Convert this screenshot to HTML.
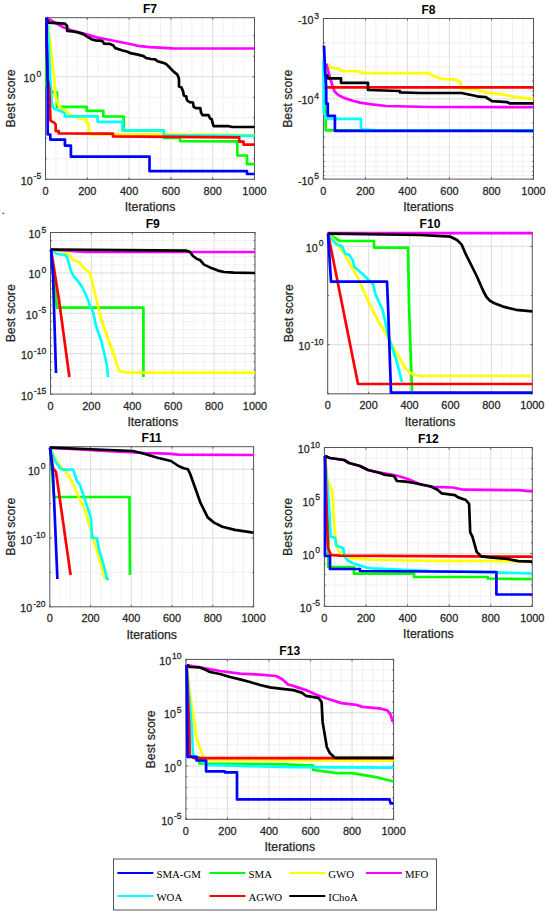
<!DOCTYPE html>
<html><head><meta charset="utf-8"><title>Convergence curves F7-F13</title>
<style>
html,body{margin:0;padding:0;background:#fff;}
body{width:550px;height:916px;overflow:hidden;}
svg{display:block;}
.tk{font-family:"Liberation Sans",sans-serif;font-size:10.4px;fill:#262626;stroke:#262626;stroke-width:0.25px;}
.sup{font-size:8.3px;}
.ti{font-family:"Liberation Sans",sans-serif;font-size:12.1px;font-weight:bold;fill:#000;}
.lb{font-family:"Liberation Sans",sans-serif;font-size:12.3px;fill:#262626;stroke:#262626;stroke-width:0.25px;}
.lg{font-family:"Liberation Serif",serif;font-size:11.4px;fill:#000;}
</style></head>
<body>
<svg width="550" height="916" viewBox="0 0 550 916">
<rect x="0" y="0" width="550" height="916" fill="#fff"/>
<line x1="55.95" y1="17.7" x2="55.95" y2="179.3" stroke="#ededed" stroke-width="0.8"/>
<line x1="66.4" y1="17.7" x2="66.4" y2="179.3" stroke="#ededed" stroke-width="0.8"/>
<line x1="76.85" y1="17.7" x2="76.85" y2="179.3" stroke="#ededed" stroke-width="0.8"/>
<line x1="87.3" y1="17.7" x2="87.3" y2="179.3" stroke="#d9d9d9" stroke-width="0.9"/>
<line x1="97.75" y1="17.7" x2="97.75" y2="179.3" stroke="#ededed" stroke-width="0.8"/>
<line x1="108.2" y1="17.7" x2="108.2" y2="179.3" stroke="#ededed" stroke-width="0.8"/>
<line x1="118.65" y1="17.7" x2="118.65" y2="179.3" stroke="#ededed" stroke-width="0.8"/>
<line x1="129.1" y1="17.7" x2="129.1" y2="179.3" stroke="#d9d9d9" stroke-width="0.9"/>
<line x1="139.55" y1="17.7" x2="139.55" y2="179.3" stroke="#ededed" stroke-width="0.8"/>
<line x1="150" y1="17.7" x2="150" y2="179.3" stroke="#ededed" stroke-width="0.8"/>
<line x1="160.45" y1="17.7" x2="160.45" y2="179.3" stroke="#ededed" stroke-width="0.8"/>
<line x1="170.9" y1="17.7" x2="170.9" y2="179.3" stroke="#d9d9d9" stroke-width="0.9"/>
<line x1="181.35" y1="17.7" x2="181.35" y2="179.3" stroke="#ededed" stroke-width="0.8"/>
<line x1="191.8" y1="17.7" x2="191.8" y2="179.3" stroke="#ededed" stroke-width="0.8"/>
<line x1="202.25" y1="17.7" x2="202.25" y2="179.3" stroke="#ededed" stroke-width="0.8"/>
<line x1="212.7" y1="17.7" x2="212.7" y2="179.3" stroke="#d9d9d9" stroke-width="0.9"/>
<line x1="223.15" y1="17.7" x2="223.15" y2="179.3" stroke="#ededed" stroke-width="0.8"/>
<line x1="233.6" y1="17.7" x2="233.6" y2="179.3" stroke="#ededed" stroke-width="0.8"/>
<line x1="244.05" y1="17.7" x2="244.05" y2="179.3" stroke="#ededed" stroke-width="0.8"/>
<line x1="45.5" y1="76.75" x2="254.5" y2="76.75" stroke="#d9d9d9" stroke-width="0.9"/>
<line x1="45.5" y1="158.79" x2="254.5" y2="158.79" stroke="#e2e2e2" stroke-width="0.8" stroke-dasharray="1.2 0.8"/>
<line x1="45.5" y1="138.28" x2="254.5" y2="138.28" stroke="#e2e2e2" stroke-width="0.8" stroke-dasharray="1.2 0.8"/>
<line x1="45.5" y1="117.77" x2="254.5" y2="117.77" stroke="#e2e2e2" stroke-width="0.8" stroke-dasharray="1.2 0.8"/>
<line x1="45.5" y1="97.26" x2="254.5" y2="97.26" stroke="#e2e2e2" stroke-width="0.8" stroke-dasharray="1.2 0.8"/>
<line x1="45.5" y1="56.24" x2="254.5" y2="56.24" stroke="#e2e2e2" stroke-width="0.8" stroke-dasharray="1.2 0.8"/>
<line x1="45.5" y1="35.73" x2="254.5" y2="35.73" stroke="#e2e2e2" stroke-width="0.8" stroke-dasharray="1.2 0.8"/>
<rect x="45.5" y="17.7" width="209" height="161.6" fill="none" stroke="#555555" stroke-width="1.0"/>
<line x1="45.5" y1="179.3" x2="45.5" y2="177.3" stroke="#555555" stroke-width="0.9"/>
<line x1="45.5" y1="17.7" x2="45.5" y2="19.7" stroke="#555555" stroke-width="0.9"/>
<line x1="87.3" y1="179.3" x2="87.3" y2="177.3" stroke="#555555" stroke-width="0.9"/>
<line x1="87.3" y1="17.7" x2="87.3" y2="19.7" stroke="#555555" stroke-width="0.9"/>
<line x1="129.1" y1="179.3" x2="129.1" y2="177.3" stroke="#555555" stroke-width="0.9"/>
<line x1="129.1" y1="17.7" x2="129.1" y2="19.7" stroke="#555555" stroke-width="0.9"/>
<line x1="170.9" y1="179.3" x2="170.9" y2="177.3" stroke="#555555" stroke-width="0.9"/>
<line x1="170.9" y1="17.7" x2="170.9" y2="19.7" stroke="#555555" stroke-width="0.9"/>
<line x1="212.7" y1="179.3" x2="212.7" y2="177.3" stroke="#555555" stroke-width="0.9"/>
<line x1="212.7" y1="17.7" x2="212.7" y2="19.7" stroke="#555555" stroke-width="0.9"/>
<line x1="254.5" y1="179.3" x2="254.5" y2="177.3" stroke="#555555" stroke-width="0.9"/>
<line x1="254.5" y1="17.7" x2="254.5" y2="19.7" stroke="#555555" stroke-width="0.9"/>
<text transform="translate(45.5 194.7) scale(1.05 1)" text-anchor="middle" class="tk">0</text>
<text transform="translate(87.3 194.7) scale(1.05 1)" text-anchor="middle" class="tk">200</text>
<text transform="translate(129.1 194.7) scale(1.05 1)" text-anchor="middle" class="tk">400</text>
<text transform="translate(170.9 194.7) scale(1.05 1)" text-anchor="middle" class="tk">600</text>
<text transform="translate(212.7 194.7) scale(1.05 1)" text-anchor="middle" class="tk">800</text>
<text transform="translate(254.5 194.7) scale(1.05 1)" text-anchor="middle" class="tk">1000</text>
<line x1="45.5" y1="179.3" x2="47.5" y2="179.3" stroke="#555555" stroke-width="0.9"/>
<line x1="252.5" y1="179.3" x2="254.5" y2="179.3" stroke="#555555" stroke-width="0.9"/>
<text transform="translate(41.2 184.8) scale(1.03 1)" text-anchor="end" class="tk">10<tspan dx="0.9" dy="-5.5" class="sup">-5</tspan></text>
<line x1="45.5" y1="76.75" x2="47.5" y2="76.75" stroke="#555555" stroke-width="0.9"/>
<line x1="252.5" y1="76.75" x2="254.5" y2="76.75" stroke="#555555" stroke-width="0.9"/>
<text transform="translate(41.2 82.25) scale(1.03 1)" text-anchor="end" class="tk">10<tspan dx="0.9" dy="-5.5" class="sup">0</tspan></text>
<line x1="45.5" y1="158.79" x2="46.8" y2="158.79" stroke="#555555" stroke-width="0.9"/>
<line x1="253.2" y1="158.79" x2="254.5" y2="158.79" stroke="#555555" stroke-width="0.9"/>
<line x1="45.5" y1="138.28" x2="46.8" y2="138.28" stroke="#555555" stroke-width="0.9"/>
<line x1="253.2" y1="138.28" x2="254.5" y2="138.28" stroke="#555555" stroke-width="0.9"/>
<line x1="45.5" y1="117.77" x2="46.8" y2="117.77" stroke="#555555" stroke-width="0.9"/>
<line x1="253.2" y1="117.77" x2="254.5" y2="117.77" stroke="#555555" stroke-width="0.9"/>
<line x1="45.5" y1="97.26" x2="46.8" y2="97.26" stroke="#555555" stroke-width="0.9"/>
<line x1="253.2" y1="97.26" x2="254.5" y2="97.26" stroke="#555555" stroke-width="0.9"/>
<line x1="45.5" y1="56.24" x2="46.8" y2="56.24" stroke="#555555" stroke-width="0.9"/>
<line x1="253.2" y1="56.24" x2="254.5" y2="56.24" stroke="#555555" stroke-width="0.9"/>
<line x1="45.5" y1="35.73" x2="46.8" y2="35.73" stroke="#555555" stroke-width="0.9"/>
<line x1="253.2" y1="35.73" x2="254.5" y2="35.73" stroke="#555555" stroke-width="0.9"/>
<polyline points="46.6,17.7 46.6,55 46.5,65 46.5,86 53,92.4 57,92.4 57,106.8 86.7,106.8 86.7,110.9 103.3,110.9 103.3,116.5 123.7,116.5 123.7,130.5 163.8,130.5 163.8,137.8 180.2,137.8 180.2,141.1 237.3,141.3 237.3,155.5 247,155.5 247,164.2 254.5,164.2" fill="none" stroke="#00ff00" stroke-width="2.7" stroke-linejoin="round" stroke-linecap="butt"/>
<polyline points="47,17.7 49.9,40 54.3,80 55.1,93.1 56.4,99.6 59,106.2 61.6,108.8 66.2,110.8 68.2,113.4 74.7,116.9 80.2,118.5 85.6,119.6 88.9,125.5 88.9,133.6 90,134.4 175,134.4 254.5,135.2" fill="none" stroke="#ffff00" stroke-width="2.7" stroke-linejoin="round" stroke-linecap="butt"/>
<polyline points="46.4,17.7 52.9,21.5 63.8,27.5 74.7,31.4 85.6,34.1 96.5,37.4 110,40 130,44 140,46.2 150,47.2 172.7,48.4 254.5,48.5" fill="none" stroke="#ff00ff" stroke-width="2.7" stroke-linejoin="round" stroke-linecap="butt"/>
<polyline points="47,17.7 48.4,40 50.3,80 51.8,104.2 54.1,108.8 57,109.8 61.6,111.4 64.9,113.4 64.9,116.4 97.6,116.4 97.6,121.8 122.5,121.8 122.5,130.5 163.8,130.5 163.8,135.4 254.5,135.8" fill="none" stroke="#00ffff" stroke-width="2.7" stroke-linejoin="round" stroke-linecap="butt"/>
<polyline points="46.6,17.7 46.6,40 47.7,80 49.2,87.9 50.5,120.6 54.1,122.6 55.7,124.5 55.7,131.1 58.7,131.1 58.7,133.5 113,133.6 113,136.4 239.2,137.4 239.2,141.6 243.5,141.6 243.5,144.6 254.5,144.6" fill="none" stroke="#ff0000" stroke-width="2.7" stroke-linejoin="round" stroke-linecap="butt"/>
<polyline points="46.4,17.7 48.5,22.6 64.9,23.7 67.1,25.9 67.1,30.8 72.5,31.4 78,32.4 83.4,34.1 86.7,36.3 92.2,39.5 96.5,40.6 100,40.6 102.9,41.5 104,43.7 110,43.9 113.1,45.2 115.3,48.1 121.8,50.3 127.6,51.7 130.5,53.2 137.8,54.6 143.6,56.1 146,58 150.9,59 155.3,59.4 157.5,61.2 162.5,62.6 166.2,64.1 168.4,66.3 171.3,69.2 174.2,72.1 177.1,74.3 178.5,77.2 179,80 179,86.5 181.5,87.4 183.1,91.5 183.9,95.5 186.4,96.5 186.4,98 187.2,100.5 189.6,102.1 192.9,102.5 193.7,107 196.2,108.2 200.3,108.2 201.1,112.7 202.7,115.2 208.5,115.2 210.1,118.5 211.7,119.3 213.4,125.8 214.2,126.2 228.9,126.2 232.2,127 254.5,127" fill="none" stroke="#000000" stroke-width="2.7" stroke-linejoin="round" stroke-linecap="butt"/>
<polyline points="46.6,17.7 46.6,40 47.7,80 47.7,134.5 50.3,134.5 50.3,139.6 64.9,139.6 64.9,145.6 70.9,145.6 70.9,156.7 149.5,156.7 149.5,171.2 247,171.2 247,174 254.5,174" fill="none" stroke="#0000ff" stroke-width="2.7" stroke-linejoin="round" stroke-linecap="butt"/>
<text x="150" y="12.9" text-anchor="middle" class="ti">F7</text>
<text x="150" y="211.2" text-anchor="middle" class="lb">Iterations</text>
<text transform="translate(15 98.5) rotate(-90)" text-anchor="middle" class="lb">Best score</text>
<line x1="333.9" y1="18.5" x2="333.9" y2="179.1" stroke="#ededed" stroke-width="0.8"/>
<line x1="344.41" y1="18.5" x2="344.41" y2="179.1" stroke="#ededed" stroke-width="0.8"/>
<line x1="354.91" y1="18.5" x2="354.91" y2="179.1" stroke="#ededed" stroke-width="0.8"/>
<line x1="365.42" y1="18.5" x2="365.42" y2="179.1" stroke="#d9d9d9" stroke-width="0.9"/>
<line x1="375.92" y1="18.5" x2="375.92" y2="179.1" stroke="#ededed" stroke-width="0.8"/>
<line x1="386.43" y1="18.5" x2="386.43" y2="179.1" stroke="#ededed" stroke-width="0.8"/>
<line x1="396.94" y1="18.5" x2="396.94" y2="179.1" stroke="#ededed" stroke-width="0.8"/>
<line x1="407.44" y1="18.5" x2="407.44" y2="179.1" stroke="#d9d9d9" stroke-width="0.9"/>
<line x1="417.94" y1="18.5" x2="417.94" y2="179.1" stroke="#ededed" stroke-width="0.8"/>
<line x1="428.45" y1="18.5" x2="428.45" y2="179.1" stroke="#ededed" stroke-width="0.8"/>
<line x1="438.95" y1="18.5" x2="438.95" y2="179.1" stroke="#ededed" stroke-width="0.8"/>
<line x1="449.46" y1="18.5" x2="449.46" y2="179.1" stroke="#d9d9d9" stroke-width="0.9"/>
<line x1="459.96" y1="18.5" x2="459.96" y2="179.1" stroke="#ededed" stroke-width="0.8"/>
<line x1="470.47" y1="18.5" x2="470.47" y2="179.1" stroke="#ededed" stroke-width="0.8"/>
<line x1="480.98" y1="18.5" x2="480.98" y2="179.1" stroke="#ededed" stroke-width="0.8"/>
<line x1="491.48" y1="18.5" x2="491.48" y2="179.1" stroke="#d9d9d9" stroke-width="0.9"/>
<line x1="501.99" y1="18.5" x2="501.99" y2="179.1" stroke="#ededed" stroke-width="0.8"/>
<line x1="512.49" y1="18.5" x2="512.49" y2="179.1" stroke="#ededed" stroke-width="0.8"/>
<line x1="523" y1="18.5" x2="523" y2="179.1" stroke="#ededed" stroke-width="0.8"/>
<line x1="323.4" y1="98.8" x2="533.5" y2="98.8" stroke="#d9d9d9" stroke-width="0.9"/>
<line x1="323.4" y1="42.67" x2="533.5" y2="42.67" stroke="#e2e2e2" stroke-width="0.8" stroke-dasharray="1.2 0.8"/>
<line x1="323.4" y1="56.81" x2="533.5" y2="56.81" stroke="#e2e2e2" stroke-width="0.8" stroke-dasharray="1.2 0.8"/>
<line x1="323.4" y1="66.85" x2="533.5" y2="66.85" stroke="#e2e2e2" stroke-width="0.8" stroke-dasharray="1.2 0.8"/>
<line x1="323.4" y1="74.63" x2="533.5" y2="74.63" stroke="#e2e2e2" stroke-width="0.8" stroke-dasharray="1.2 0.8"/>
<line x1="323.4" y1="80.99" x2="533.5" y2="80.99" stroke="#e2e2e2" stroke-width="0.8" stroke-dasharray="1.2 0.8"/>
<line x1="323.4" y1="86.36" x2="533.5" y2="86.36" stroke="#e2e2e2" stroke-width="0.8" stroke-dasharray="1.2 0.8"/>
<line x1="323.4" y1="91.02" x2="533.5" y2="91.02" stroke="#e2e2e2" stroke-width="0.8" stroke-dasharray="1.2 0.8"/>
<line x1="323.4" y1="95.13" x2="533.5" y2="95.13" stroke="#e2e2e2" stroke-width="0.8" stroke-dasharray="1.2 0.8"/>
<line x1="323.4" y1="122.97" x2="533.5" y2="122.97" stroke="#e2e2e2" stroke-width="0.8" stroke-dasharray="1.2 0.8"/>
<line x1="323.4" y1="137.11" x2="533.5" y2="137.11" stroke="#e2e2e2" stroke-width="0.8" stroke-dasharray="1.2 0.8"/>
<line x1="323.4" y1="147.15" x2="533.5" y2="147.15" stroke="#e2e2e2" stroke-width="0.8" stroke-dasharray="1.2 0.8"/>
<line x1="323.4" y1="154.93" x2="533.5" y2="154.93" stroke="#e2e2e2" stroke-width="0.8" stroke-dasharray="1.2 0.8"/>
<line x1="323.4" y1="161.29" x2="533.5" y2="161.29" stroke="#e2e2e2" stroke-width="0.8" stroke-dasharray="1.2 0.8"/>
<line x1="323.4" y1="166.66" x2="533.5" y2="166.66" stroke="#e2e2e2" stroke-width="0.8" stroke-dasharray="1.2 0.8"/>
<line x1="323.4" y1="171.32" x2="533.5" y2="171.32" stroke="#e2e2e2" stroke-width="0.8" stroke-dasharray="1.2 0.8"/>
<line x1="323.4" y1="175.43" x2="533.5" y2="175.43" stroke="#e2e2e2" stroke-width="0.8" stroke-dasharray="1.2 0.8"/>
<rect x="323.4" y="18.5" width="210.1" height="160.6" fill="none" stroke="#555555" stroke-width="1.0"/>
<line x1="323.4" y1="179.1" x2="323.4" y2="177.1" stroke="#555555" stroke-width="0.9"/>
<line x1="323.4" y1="18.5" x2="323.4" y2="20.5" stroke="#555555" stroke-width="0.9"/>
<line x1="365.42" y1="179.1" x2="365.42" y2="177.1" stroke="#555555" stroke-width="0.9"/>
<line x1="365.42" y1="18.5" x2="365.42" y2="20.5" stroke="#555555" stroke-width="0.9"/>
<line x1="407.44" y1="179.1" x2="407.44" y2="177.1" stroke="#555555" stroke-width="0.9"/>
<line x1="407.44" y1="18.5" x2="407.44" y2="20.5" stroke="#555555" stroke-width="0.9"/>
<line x1="449.46" y1="179.1" x2="449.46" y2="177.1" stroke="#555555" stroke-width="0.9"/>
<line x1="449.46" y1="18.5" x2="449.46" y2="20.5" stroke="#555555" stroke-width="0.9"/>
<line x1="491.48" y1="179.1" x2="491.48" y2="177.1" stroke="#555555" stroke-width="0.9"/>
<line x1="491.48" y1="18.5" x2="491.48" y2="20.5" stroke="#555555" stroke-width="0.9"/>
<line x1="533.5" y1="179.1" x2="533.5" y2="177.1" stroke="#555555" stroke-width="0.9"/>
<line x1="533.5" y1="18.5" x2="533.5" y2="20.5" stroke="#555555" stroke-width="0.9"/>
<text transform="translate(323.4 194.5) scale(1.05 1)" text-anchor="middle" class="tk">0</text>
<text transform="translate(365.42 194.5) scale(1.05 1)" text-anchor="middle" class="tk">200</text>
<text transform="translate(407.44 194.5) scale(1.05 1)" text-anchor="middle" class="tk">400</text>
<text transform="translate(449.46 194.5) scale(1.05 1)" text-anchor="middle" class="tk">600</text>
<text transform="translate(491.48 194.5) scale(1.05 1)" text-anchor="middle" class="tk">800</text>
<text transform="translate(533.5 194.5) scale(1.05 1)" text-anchor="middle" class="tk">1000</text>
<line x1="323.4" y1="18.5" x2="325.4" y2="18.5" stroke="#555555" stroke-width="0.9"/>
<line x1="531.5" y1="18.5" x2="533.5" y2="18.5" stroke="#555555" stroke-width="0.9"/>
<text transform="translate(319.1 24) scale(1.03 1)" text-anchor="end" class="tk">-10<tspan dx="0.9" dy="-5.5" class="sup">3</tspan></text>
<line x1="323.4" y1="98.8" x2="325.4" y2="98.8" stroke="#555555" stroke-width="0.9"/>
<line x1="531.5" y1="98.8" x2="533.5" y2="98.8" stroke="#555555" stroke-width="0.9"/>
<text transform="translate(319.1 104.3) scale(1.03 1)" text-anchor="end" class="tk">-10<tspan dx="0.9" dy="-5.5" class="sup">4</tspan></text>
<line x1="323.4" y1="179.1" x2="325.4" y2="179.1" stroke="#555555" stroke-width="0.9"/>
<line x1="531.5" y1="179.1" x2="533.5" y2="179.1" stroke="#555555" stroke-width="0.9"/>
<text transform="translate(319.1 184.6) scale(1.03 1)" text-anchor="end" class="tk">-10<tspan dx="0.9" dy="-5.5" class="sup">5</tspan></text>
<line x1="323.4" y1="42.67" x2="324.7" y2="42.67" stroke="#555555" stroke-width="0.9"/>
<line x1="532.2" y1="42.67" x2="533.5" y2="42.67" stroke="#555555" stroke-width="0.9"/>
<line x1="323.4" y1="56.81" x2="324.7" y2="56.81" stroke="#555555" stroke-width="0.9"/>
<line x1="532.2" y1="56.81" x2="533.5" y2="56.81" stroke="#555555" stroke-width="0.9"/>
<line x1="323.4" y1="66.85" x2="324.7" y2="66.85" stroke="#555555" stroke-width="0.9"/>
<line x1="532.2" y1="66.85" x2="533.5" y2="66.85" stroke="#555555" stroke-width="0.9"/>
<line x1="323.4" y1="74.63" x2="324.7" y2="74.63" stroke="#555555" stroke-width="0.9"/>
<line x1="532.2" y1="74.63" x2="533.5" y2="74.63" stroke="#555555" stroke-width="0.9"/>
<line x1="323.4" y1="80.99" x2="324.7" y2="80.99" stroke="#555555" stroke-width="0.9"/>
<line x1="532.2" y1="80.99" x2="533.5" y2="80.99" stroke="#555555" stroke-width="0.9"/>
<line x1="323.4" y1="86.36" x2="324.7" y2="86.36" stroke="#555555" stroke-width="0.9"/>
<line x1="532.2" y1="86.36" x2="533.5" y2="86.36" stroke="#555555" stroke-width="0.9"/>
<line x1="323.4" y1="91.02" x2="324.7" y2="91.02" stroke="#555555" stroke-width="0.9"/>
<line x1="532.2" y1="91.02" x2="533.5" y2="91.02" stroke="#555555" stroke-width="0.9"/>
<line x1="323.4" y1="95.13" x2="324.7" y2="95.13" stroke="#555555" stroke-width="0.9"/>
<line x1="532.2" y1="95.13" x2="533.5" y2="95.13" stroke="#555555" stroke-width="0.9"/>
<line x1="323.4" y1="122.97" x2="324.7" y2="122.97" stroke="#555555" stroke-width="0.9"/>
<line x1="532.2" y1="122.97" x2="533.5" y2="122.97" stroke="#555555" stroke-width="0.9"/>
<line x1="323.4" y1="137.11" x2="324.7" y2="137.11" stroke="#555555" stroke-width="0.9"/>
<line x1="532.2" y1="137.11" x2="533.5" y2="137.11" stroke="#555555" stroke-width="0.9"/>
<line x1="323.4" y1="147.15" x2="324.7" y2="147.15" stroke="#555555" stroke-width="0.9"/>
<line x1="532.2" y1="147.15" x2="533.5" y2="147.15" stroke="#555555" stroke-width="0.9"/>
<line x1="323.4" y1="154.93" x2="324.7" y2="154.93" stroke="#555555" stroke-width="0.9"/>
<line x1="532.2" y1="154.93" x2="533.5" y2="154.93" stroke="#555555" stroke-width="0.9"/>
<line x1="323.4" y1="161.29" x2="324.7" y2="161.29" stroke="#555555" stroke-width="0.9"/>
<line x1="532.2" y1="161.29" x2="533.5" y2="161.29" stroke="#555555" stroke-width="0.9"/>
<line x1="323.4" y1="166.66" x2="324.7" y2="166.66" stroke="#555555" stroke-width="0.9"/>
<line x1="532.2" y1="166.66" x2="533.5" y2="166.66" stroke="#555555" stroke-width="0.9"/>
<line x1="323.4" y1="171.32" x2="324.7" y2="171.32" stroke="#555555" stroke-width="0.9"/>
<line x1="532.2" y1="171.32" x2="533.5" y2="171.32" stroke="#555555" stroke-width="0.9"/>
<line x1="323.4" y1="175.43" x2="324.7" y2="175.43" stroke="#555555" stroke-width="0.9"/>
<line x1="532.2" y1="175.43" x2="533.5" y2="175.43" stroke="#555555" stroke-width="0.9"/>
<polyline points="324.5,100 325.7,112.3 325.7,130.3 334.4,130.3 533.5,130.8" fill="none" stroke="#00ff00" stroke-width="2.7" stroke-linejoin="round" stroke-linecap="butt"/>
<polyline points="326.7,64.2 328.9,64.8 330,67.5 338.8,68.6 341,70.8 358,71.3 362,73 428.7,73.2 433,76 441.8,78.8 456,79.7 460.4,82.5 461.5,88.4 476.7,89.7 485.5,92.4 503,94.5 516,97.2 533.5,98.9" fill="none" stroke="#ffff00" stroke-width="2.7" stroke-linejoin="round" stroke-linecap="butt"/>
<polyline points="326.2,63.7 328.7,73.2 330.9,80.5 332.4,85.5 334.5,91.4 338.2,95 344,97.9 352.7,100.8 360,102.6 372,104.4 386,106 430,107 533.5,107.2" fill="none" stroke="#ff00ff" stroke-width="2.7" stroke-linejoin="round" stroke-linecap="butt"/>
<polyline points="323.5,59.9 323.8,112.3 326.7,118.9 361,118.9 361,129.4 378,130.4 533.5,130.8" fill="none" stroke="#00ffff" stroke-width="2.7" stroke-linejoin="round" stroke-linecap="butt"/>
<polyline points="324.6,87.4 533.5,87.4" fill="none" stroke="#ff0000" stroke-width="2.7" stroke-linejoin="round" stroke-linecap="butt"/>
<polyline points="326.7,74.1 327.8,78.4 341,78.4 341,82.8 368,82.8 368,90 400,91 400,92.4 420,93 461.5,93 472.4,95.2 479,96.7 485.5,97 492,101.1 507.3,102.2 509.5,103.3 533.5,103.3" fill="none" stroke="#000000" stroke-width="2.7" stroke-linejoin="round" stroke-linecap="butt"/>
<polyline points="324,45.7 325.1,70.8 326.2,87.2 326.2,103.6 327.8,103.6 327.8,115.8 334.9,115.8 334.9,130.8 533.5,130.8" fill="none" stroke="#0000ff" stroke-width="2.7" stroke-linejoin="round" stroke-linecap="butt"/>
<text x="428.45" y="13.7" text-anchor="middle" class="ti">F8</text>
<text x="428.45" y="211" text-anchor="middle" class="lb">Iterations</text>
<text transform="translate(291.8 98.8) rotate(-90)" text-anchor="middle" class="lb">Best score</text>
<line x1="60.73" y1="232.5" x2="60.73" y2="394.1" stroke="#ededed" stroke-width="0.8"/>
<line x1="70.95" y1="232.5" x2="70.95" y2="394.1" stroke="#ededed" stroke-width="0.8"/>
<line x1="81.17" y1="232.5" x2="81.17" y2="394.1" stroke="#ededed" stroke-width="0.8"/>
<line x1="91.4" y1="232.5" x2="91.4" y2="394.1" stroke="#d9d9d9" stroke-width="0.9"/>
<line x1="101.62" y1="232.5" x2="101.62" y2="394.1" stroke="#ededed" stroke-width="0.8"/>
<line x1="111.85" y1="232.5" x2="111.85" y2="394.1" stroke="#ededed" stroke-width="0.8"/>
<line x1="122.08" y1="232.5" x2="122.08" y2="394.1" stroke="#ededed" stroke-width="0.8"/>
<line x1="132.3" y1="232.5" x2="132.3" y2="394.1" stroke="#d9d9d9" stroke-width="0.9"/>
<line x1="142.53" y1="232.5" x2="142.53" y2="394.1" stroke="#ededed" stroke-width="0.8"/>
<line x1="152.75" y1="232.5" x2="152.75" y2="394.1" stroke="#ededed" stroke-width="0.8"/>
<line x1="162.97" y1="232.5" x2="162.97" y2="394.1" stroke="#ededed" stroke-width="0.8"/>
<line x1="173.2" y1="232.5" x2="173.2" y2="394.1" stroke="#d9d9d9" stroke-width="0.9"/>
<line x1="183.43" y1="232.5" x2="183.43" y2="394.1" stroke="#ededed" stroke-width="0.8"/>
<line x1="193.65" y1="232.5" x2="193.65" y2="394.1" stroke="#ededed" stroke-width="0.8"/>
<line x1="203.88" y1="232.5" x2="203.88" y2="394.1" stroke="#ededed" stroke-width="0.8"/>
<line x1="214.1" y1="232.5" x2="214.1" y2="394.1" stroke="#d9d9d9" stroke-width="0.9"/>
<line x1="224.32" y1="232.5" x2="224.32" y2="394.1" stroke="#ededed" stroke-width="0.8"/>
<line x1="234.55" y1="232.5" x2="234.55" y2="394.1" stroke="#ededed" stroke-width="0.8"/>
<line x1="244.78" y1="232.5" x2="244.78" y2="394.1" stroke="#ededed" stroke-width="0.8"/>
<line x1="50.5" y1="353.7" x2="255" y2="353.7" stroke="#d9d9d9" stroke-width="0.9"/>
<line x1="50.5" y1="313.3" x2="255" y2="313.3" stroke="#d9d9d9" stroke-width="0.9"/>
<line x1="50.5" y1="272.9" x2="255" y2="272.9" stroke="#d9d9d9" stroke-width="0.9"/>
<line x1="50.5" y1="386.02" x2="255" y2="386.02" stroke="#e2e2e2" stroke-width="0.8" stroke-dasharray="1.2 0.8"/>
<line x1="50.5" y1="377.94" x2="255" y2="377.94" stroke="#e2e2e2" stroke-width="0.8" stroke-dasharray="1.2 0.8"/>
<line x1="50.5" y1="369.86" x2="255" y2="369.86" stroke="#e2e2e2" stroke-width="0.8" stroke-dasharray="1.2 0.8"/>
<line x1="50.5" y1="361.78" x2="255" y2="361.78" stroke="#e2e2e2" stroke-width="0.8" stroke-dasharray="1.2 0.8"/>
<line x1="50.5" y1="345.62" x2="255" y2="345.62" stroke="#e2e2e2" stroke-width="0.8" stroke-dasharray="1.2 0.8"/>
<line x1="50.5" y1="337.54" x2="255" y2="337.54" stroke="#e2e2e2" stroke-width="0.8" stroke-dasharray="1.2 0.8"/>
<line x1="50.5" y1="329.46" x2="255" y2="329.46" stroke="#e2e2e2" stroke-width="0.8" stroke-dasharray="1.2 0.8"/>
<line x1="50.5" y1="321.38" x2="255" y2="321.38" stroke="#e2e2e2" stroke-width="0.8" stroke-dasharray="1.2 0.8"/>
<line x1="50.5" y1="305.22" x2="255" y2="305.22" stroke="#e2e2e2" stroke-width="0.8" stroke-dasharray="1.2 0.8"/>
<line x1="50.5" y1="297.14" x2="255" y2="297.14" stroke="#e2e2e2" stroke-width="0.8" stroke-dasharray="1.2 0.8"/>
<line x1="50.5" y1="289.06" x2="255" y2="289.06" stroke="#e2e2e2" stroke-width="0.8" stroke-dasharray="1.2 0.8"/>
<line x1="50.5" y1="280.98" x2="255" y2="280.98" stroke="#e2e2e2" stroke-width="0.8" stroke-dasharray="1.2 0.8"/>
<line x1="50.5" y1="264.82" x2="255" y2="264.82" stroke="#e2e2e2" stroke-width="0.8" stroke-dasharray="1.2 0.8"/>
<line x1="50.5" y1="256.74" x2="255" y2="256.74" stroke="#e2e2e2" stroke-width="0.8" stroke-dasharray="1.2 0.8"/>
<line x1="50.5" y1="248.66" x2="255" y2="248.66" stroke="#e2e2e2" stroke-width="0.8" stroke-dasharray="1.2 0.8"/>
<line x1="50.5" y1="240.58" x2="255" y2="240.58" stroke="#e2e2e2" stroke-width="0.8" stroke-dasharray="1.2 0.8"/>
<rect x="50.5" y="232.5" width="204.5" height="161.6" fill="none" stroke="#555555" stroke-width="1.0"/>
<line x1="50.5" y1="394.1" x2="50.5" y2="392.1" stroke="#555555" stroke-width="0.9"/>
<line x1="50.5" y1="232.5" x2="50.5" y2="234.5" stroke="#555555" stroke-width="0.9"/>
<line x1="91.4" y1="394.1" x2="91.4" y2="392.1" stroke="#555555" stroke-width="0.9"/>
<line x1="91.4" y1="232.5" x2="91.4" y2="234.5" stroke="#555555" stroke-width="0.9"/>
<line x1="132.3" y1="394.1" x2="132.3" y2="392.1" stroke="#555555" stroke-width="0.9"/>
<line x1="132.3" y1="232.5" x2="132.3" y2="234.5" stroke="#555555" stroke-width="0.9"/>
<line x1="173.2" y1="394.1" x2="173.2" y2="392.1" stroke="#555555" stroke-width="0.9"/>
<line x1="173.2" y1="232.5" x2="173.2" y2="234.5" stroke="#555555" stroke-width="0.9"/>
<line x1="214.1" y1="394.1" x2="214.1" y2="392.1" stroke="#555555" stroke-width="0.9"/>
<line x1="214.1" y1="232.5" x2="214.1" y2="234.5" stroke="#555555" stroke-width="0.9"/>
<line x1="255" y1="394.1" x2="255" y2="392.1" stroke="#555555" stroke-width="0.9"/>
<line x1="255" y1="232.5" x2="255" y2="234.5" stroke="#555555" stroke-width="0.9"/>
<text transform="translate(50.5 409.5) scale(1.05 1)" text-anchor="middle" class="tk">0</text>
<text transform="translate(91.4 409.5) scale(1.05 1)" text-anchor="middle" class="tk">200</text>
<text transform="translate(132.3 409.5) scale(1.05 1)" text-anchor="middle" class="tk">400</text>
<text transform="translate(173.2 409.5) scale(1.05 1)" text-anchor="middle" class="tk">600</text>
<text transform="translate(214.1 409.5) scale(1.05 1)" text-anchor="middle" class="tk">800</text>
<text transform="translate(255 409.5) scale(1.05 1)" text-anchor="middle" class="tk">1000</text>
<line x1="50.5" y1="394.1" x2="52.5" y2="394.1" stroke="#555555" stroke-width="0.9"/>
<line x1="253" y1="394.1" x2="255" y2="394.1" stroke="#555555" stroke-width="0.9"/>
<text transform="translate(46.2 399.6) scale(1.03 1)" text-anchor="end" class="tk">10<tspan dx="0.9" dy="-5.5" class="sup">-15</tspan></text>
<line x1="50.5" y1="353.7" x2="52.5" y2="353.7" stroke="#555555" stroke-width="0.9"/>
<line x1="253" y1="353.7" x2="255" y2="353.7" stroke="#555555" stroke-width="0.9"/>
<text transform="translate(46.2 359.2) scale(1.03 1)" text-anchor="end" class="tk">10<tspan dx="0.9" dy="-5.5" class="sup">-10</tspan></text>
<line x1="50.5" y1="313.3" x2="52.5" y2="313.3" stroke="#555555" stroke-width="0.9"/>
<line x1="253" y1="313.3" x2="255" y2="313.3" stroke="#555555" stroke-width="0.9"/>
<text transform="translate(46.2 318.8) scale(1.03 1)" text-anchor="end" class="tk">10<tspan dx="0.9" dy="-5.5" class="sup">-5</tspan></text>
<line x1="50.5" y1="272.9" x2="52.5" y2="272.9" stroke="#555555" stroke-width="0.9"/>
<line x1="253" y1="272.9" x2="255" y2="272.9" stroke="#555555" stroke-width="0.9"/>
<text transform="translate(46.2 278.4) scale(1.03 1)" text-anchor="end" class="tk">10<tspan dx="0.9" dy="-5.5" class="sup">0</tspan></text>
<line x1="50.5" y1="232.5" x2="52.5" y2="232.5" stroke="#555555" stroke-width="0.9"/>
<line x1="253" y1="232.5" x2="255" y2="232.5" stroke="#555555" stroke-width="0.9"/>
<text transform="translate(46.2 238) scale(1.03 1)" text-anchor="end" class="tk">10<tspan dx="0.9" dy="-5.5" class="sup">5</tspan></text>
<line x1="50.5" y1="386.02" x2="51.8" y2="386.02" stroke="#555555" stroke-width="0.9"/>
<line x1="253.7" y1="386.02" x2="255" y2="386.02" stroke="#555555" stroke-width="0.9"/>
<line x1="50.5" y1="377.94" x2="51.8" y2="377.94" stroke="#555555" stroke-width="0.9"/>
<line x1="253.7" y1="377.94" x2="255" y2="377.94" stroke="#555555" stroke-width="0.9"/>
<line x1="50.5" y1="369.86" x2="51.8" y2="369.86" stroke="#555555" stroke-width="0.9"/>
<line x1="253.7" y1="369.86" x2="255" y2="369.86" stroke="#555555" stroke-width="0.9"/>
<line x1="50.5" y1="361.78" x2="51.8" y2="361.78" stroke="#555555" stroke-width="0.9"/>
<line x1="253.7" y1="361.78" x2="255" y2="361.78" stroke="#555555" stroke-width="0.9"/>
<line x1="50.5" y1="345.62" x2="51.8" y2="345.62" stroke="#555555" stroke-width="0.9"/>
<line x1="253.7" y1="345.62" x2="255" y2="345.62" stroke="#555555" stroke-width="0.9"/>
<line x1="50.5" y1="337.54" x2="51.8" y2="337.54" stroke="#555555" stroke-width="0.9"/>
<line x1="253.7" y1="337.54" x2="255" y2="337.54" stroke="#555555" stroke-width="0.9"/>
<line x1="50.5" y1="329.46" x2="51.8" y2="329.46" stroke="#555555" stroke-width="0.9"/>
<line x1="253.7" y1="329.46" x2="255" y2="329.46" stroke="#555555" stroke-width="0.9"/>
<line x1="50.5" y1="321.38" x2="51.8" y2="321.38" stroke="#555555" stroke-width="0.9"/>
<line x1="253.7" y1="321.38" x2="255" y2="321.38" stroke="#555555" stroke-width="0.9"/>
<line x1="50.5" y1="305.22" x2="51.8" y2="305.22" stroke="#555555" stroke-width="0.9"/>
<line x1="253.7" y1="305.22" x2="255" y2="305.22" stroke="#555555" stroke-width="0.9"/>
<line x1="50.5" y1="297.14" x2="51.8" y2="297.14" stroke="#555555" stroke-width="0.9"/>
<line x1="253.7" y1="297.14" x2="255" y2="297.14" stroke="#555555" stroke-width="0.9"/>
<line x1="50.5" y1="289.06" x2="51.8" y2="289.06" stroke="#555555" stroke-width="0.9"/>
<line x1="253.7" y1="289.06" x2="255" y2="289.06" stroke="#555555" stroke-width="0.9"/>
<line x1="50.5" y1="280.98" x2="51.8" y2="280.98" stroke="#555555" stroke-width="0.9"/>
<line x1="253.7" y1="280.98" x2="255" y2="280.98" stroke="#555555" stroke-width="0.9"/>
<line x1="50.5" y1="264.82" x2="51.8" y2="264.82" stroke="#555555" stroke-width="0.9"/>
<line x1="253.7" y1="264.82" x2="255" y2="264.82" stroke="#555555" stroke-width="0.9"/>
<line x1="50.5" y1="256.74" x2="51.8" y2="256.74" stroke="#555555" stroke-width="0.9"/>
<line x1="253.7" y1="256.74" x2="255" y2="256.74" stroke="#555555" stroke-width="0.9"/>
<line x1="50.5" y1="248.66" x2="51.8" y2="248.66" stroke="#555555" stroke-width="0.9"/>
<line x1="253.7" y1="248.66" x2="255" y2="248.66" stroke="#555555" stroke-width="0.9"/>
<line x1="50.5" y1="240.58" x2="51.8" y2="240.58" stroke="#555555" stroke-width="0.9"/>
<line x1="253.7" y1="240.58" x2="255" y2="240.58" stroke="#555555" stroke-width="0.9"/>
<polyline points="51,249.5 57,307.6 143.4,307.6 143.4,377" fill="none" stroke="#00ff00" stroke-width="2.7" stroke-linejoin="round" stroke-linecap="butt"/>
<polyline points="51,249.5 64,252 69,255 73,260 79,262 84,268 90,273 93,285 97,302 101,318 107,336 113,352 119,371 127,372.6 255,372.6" fill="none" stroke="#ffff00" stroke-width="2.7" stroke-linejoin="round" stroke-linecap="butt"/>
<polyline points="51,249.5 85,252 255,252" fill="none" stroke="#ff00ff" stroke-width="2.7" stroke-linejoin="round" stroke-linecap="butt"/>
<polyline points="51,249.5 57,254 65,255 67,257 71,271 74,277 78,281 82,287 86,295 88,300 90,306 93,312 96,326 101,340 104,352 107,366 108,377" fill="none" stroke="#00ffff" stroke-width="2.7" stroke-linejoin="round" stroke-linecap="butt"/>
<polyline points="51,249.5 59,300 69.4,377" fill="none" stroke="#ff0000" stroke-width="2.7" stroke-linejoin="round" stroke-linecap="butt"/>
<polyline points="51,249.5 186,250.6 190,252 193,256 197,259 200,260 204,264.6 210,267.4 218,270.6 224,272 234,272.6 255,273" fill="none" stroke="#000000" stroke-width="2.7" stroke-linejoin="round" stroke-linecap="butt"/>
<polyline points="51,249.5 53,275 56,373" fill="none" stroke="#0000ff" stroke-width="2.7" stroke-linejoin="round" stroke-linecap="butt"/>
<text x="152.75" y="227.7" text-anchor="middle" class="ti">F9</text>
<text x="152.75" y="426" text-anchor="middle" class="lb">Iterations</text>
<text transform="translate(14.5 313.3) rotate(-90)" text-anchor="middle" class="lb">Best score</text>
<line x1="337.93" y1="232.7" x2="337.93" y2="393.8" stroke="#ededed" stroke-width="0.8"/>
<line x1="348.16" y1="232.7" x2="348.16" y2="393.8" stroke="#ededed" stroke-width="0.8"/>
<line x1="358.39" y1="232.7" x2="358.39" y2="393.8" stroke="#ededed" stroke-width="0.8"/>
<line x1="368.62" y1="232.7" x2="368.62" y2="393.8" stroke="#d9d9d9" stroke-width="0.9"/>
<line x1="378.85" y1="232.7" x2="378.85" y2="393.8" stroke="#ededed" stroke-width="0.8"/>
<line x1="389.08" y1="232.7" x2="389.08" y2="393.8" stroke="#ededed" stroke-width="0.8"/>
<line x1="399.31" y1="232.7" x2="399.31" y2="393.8" stroke="#ededed" stroke-width="0.8"/>
<line x1="409.54" y1="232.7" x2="409.54" y2="393.8" stroke="#d9d9d9" stroke-width="0.9"/>
<line x1="419.77" y1="232.7" x2="419.77" y2="393.8" stroke="#ededed" stroke-width="0.8"/>
<line x1="430" y1="232.7" x2="430" y2="393.8" stroke="#ededed" stroke-width="0.8"/>
<line x1="440.23" y1="232.7" x2="440.23" y2="393.8" stroke="#ededed" stroke-width="0.8"/>
<line x1="450.46" y1="232.7" x2="450.46" y2="393.8" stroke="#d9d9d9" stroke-width="0.9"/>
<line x1="460.69" y1="232.7" x2="460.69" y2="393.8" stroke="#ededed" stroke-width="0.8"/>
<line x1="470.92" y1="232.7" x2="470.92" y2="393.8" stroke="#ededed" stroke-width="0.8"/>
<line x1="481.15" y1="232.7" x2="481.15" y2="393.8" stroke="#ededed" stroke-width="0.8"/>
<line x1="491.38" y1="232.7" x2="491.38" y2="393.8" stroke="#d9d9d9" stroke-width="0.9"/>
<line x1="501.61" y1="232.7" x2="501.61" y2="393.8" stroke="#ededed" stroke-width="0.8"/>
<line x1="511.84" y1="232.7" x2="511.84" y2="393.8" stroke="#ededed" stroke-width="0.8"/>
<line x1="522.07" y1="232.7" x2="522.07" y2="393.8" stroke="#ededed" stroke-width="0.8"/>
<line x1="327.7" y1="344.7" x2="532.3" y2="344.7" stroke="#d9d9d9" stroke-width="0.9"/>
<line x1="327.7" y1="246.3" x2="532.3" y2="246.3" stroke="#d9d9d9" stroke-width="0.9"/>
<line x1="327.7" y1="393.9" x2="532.3" y2="393.9" stroke="#e2e2e2" stroke-width="0.8" stroke-dasharray="1.2 0.8"/>
<line x1="327.7" y1="295.5" x2="532.3" y2="295.5" stroke="#e2e2e2" stroke-width="0.8" stroke-dasharray="1.2 0.8"/>
<rect x="327.7" y="232.7" width="204.6" height="161.1" fill="none" stroke="#555555" stroke-width="1.0"/>
<line x1="327.7" y1="393.8" x2="327.7" y2="391.8" stroke="#555555" stroke-width="0.9"/>
<line x1="327.7" y1="232.7" x2="327.7" y2="234.7" stroke="#555555" stroke-width="0.9"/>
<line x1="368.62" y1="393.8" x2="368.62" y2="391.8" stroke="#555555" stroke-width="0.9"/>
<line x1="368.62" y1="232.7" x2="368.62" y2="234.7" stroke="#555555" stroke-width="0.9"/>
<line x1="409.54" y1="393.8" x2="409.54" y2="391.8" stroke="#555555" stroke-width="0.9"/>
<line x1="409.54" y1="232.7" x2="409.54" y2="234.7" stroke="#555555" stroke-width="0.9"/>
<line x1="450.46" y1="393.8" x2="450.46" y2="391.8" stroke="#555555" stroke-width="0.9"/>
<line x1="450.46" y1="232.7" x2="450.46" y2="234.7" stroke="#555555" stroke-width="0.9"/>
<line x1="491.38" y1="393.8" x2="491.38" y2="391.8" stroke="#555555" stroke-width="0.9"/>
<line x1="491.38" y1="232.7" x2="491.38" y2="234.7" stroke="#555555" stroke-width="0.9"/>
<line x1="532.3" y1="393.8" x2="532.3" y2="391.8" stroke="#555555" stroke-width="0.9"/>
<line x1="532.3" y1="232.7" x2="532.3" y2="234.7" stroke="#555555" stroke-width="0.9"/>
<text transform="translate(327.7 409.2) scale(1.05 1)" text-anchor="middle" class="tk">0</text>
<text transform="translate(368.62 409.2) scale(1.05 1)" text-anchor="middle" class="tk">200</text>
<text transform="translate(409.54 409.2) scale(1.05 1)" text-anchor="middle" class="tk">400</text>
<text transform="translate(450.46 409.2) scale(1.05 1)" text-anchor="middle" class="tk">600</text>
<text transform="translate(491.38 409.2) scale(1.05 1)" text-anchor="middle" class="tk">800</text>
<text transform="translate(532.3 409.2) scale(1.05 1)" text-anchor="middle" class="tk">1000</text>
<line x1="327.7" y1="344.7" x2="329.7" y2="344.7" stroke="#555555" stroke-width="0.9"/>
<line x1="530.3" y1="344.7" x2="532.3" y2="344.7" stroke="#555555" stroke-width="0.9"/>
<text transform="translate(323.4 350.2) scale(1.03 1)" text-anchor="end" class="tk">10<tspan dx="0.9" dy="-5.5" class="sup">-10</tspan></text>
<line x1="327.7" y1="246.3" x2="329.7" y2="246.3" stroke="#555555" stroke-width="0.9"/>
<line x1="530.3" y1="246.3" x2="532.3" y2="246.3" stroke="#555555" stroke-width="0.9"/>
<text transform="translate(323.4 251.8) scale(1.03 1)" text-anchor="end" class="tk">10<tspan dx="0.9" dy="-5.5" class="sup">0</tspan></text>
<line x1="327.7" y1="393.9" x2="329" y2="393.9" stroke="#555555" stroke-width="0.9"/>
<line x1="531" y1="393.9" x2="532.3" y2="393.9" stroke="#555555" stroke-width="0.9"/>
<line x1="327.7" y1="295.5" x2="329" y2="295.5" stroke="#555555" stroke-width="0.9"/>
<line x1="531" y1="295.5" x2="532.3" y2="295.5" stroke="#555555" stroke-width="0.9"/>
<polyline points="328,233.6 340,241 374,241 374,247.6 408,247.6 409,305 412,391" fill="none" stroke="#00ff00" stroke-width="2.7" stroke-linejoin="round" stroke-linecap="butt"/>
<polyline points="328,233.6 334,240 345.3,255.3 359.3,280.7 368.2,301.1 377.7,320 390,341 400,359 406,369 412,374 420,376 532.3,376" fill="none" stroke="#ffff00" stroke-width="2.7" stroke-linejoin="round" stroke-linecap="butt"/>
<polyline points="328,233.2 532.3,233.2" fill="none" stroke="#ff00ff" stroke-width="2.7" stroke-linejoin="round" stroke-linecap="butt"/>
<polyline points="328,233.6 332.5,240 336,244 342.1,246.4 345.3,254 349.1,254.6 352.9,260.4 354.2,266.7 359.3,271.2 363.1,274.4 368.2,279.5 373.3,284.5 375.2,293.5 379.6,303.6 382.2,308.7 384.7,318.9 388,335 396,359 402,382" fill="none" stroke="#00ffff" stroke-width="2.7" stroke-linejoin="round" stroke-linecap="butt"/>
<polyline points="328,233.6 358,384 532.3,384" fill="none" stroke="#ff0000" stroke-width="2.7" stroke-linejoin="round" stroke-linecap="butt"/>
<polyline points="328,233.6 420,235 450.5,236.7 457,240 461.5,244.4 465.8,254.2 476.7,276 483.5,291.5 486.5,297 490,300.8 495,303.6 503,306.6 516,309.8 532.3,311.4" fill="none" stroke="#000000" stroke-width="2.7" stroke-linejoin="round" stroke-linecap="butt"/>
<polyline points="328,233.6 331,281.6 387,281.6 388,305 391,392.6 532.3,392.6" fill="none" stroke="#0000ff" stroke-width="2.7" stroke-linejoin="round" stroke-linecap="butt"/>
<text x="430" y="227.9" text-anchor="middle" class="ti">F10</text>
<text x="430" y="425.7" text-anchor="middle" class="lb">Iterations</text>
<text transform="translate(293.2 313.25) rotate(-90)" text-anchor="middle" class="lb">Best score</text>
<line x1="59.99" y1="446.7" x2="59.99" y2="606.8" stroke="#ededed" stroke-width="0.8"/>
<line x1="70.18" y1="446.7" x2="70.18" y2="606.8" stroke="#ededed" stroke-width="0.8"/>
<line x1="80.37" y1="446.7" x2="80.37" y2="606.8" stroke="#ededed" stroke-width="0.8"/>
<line x1="90.56" y1="446.7" x2="90.56" y2="606.8" stroke="#d9d9d9" stroke-width="0.9"/>
<line x1="100.75" y1="446.7" x2="100.75" y2="606.8" stroke="#ededed" stroke-width="0.8"/>
<line x1="110.94" y1="446.7" x2="110.94" y2="606.8" stroke="#ededed" stroke-width="0.8"/>
<line x1="121.13" y1="446.7" x2="121.13" y2="606.8" stroke="#ededed" stroke-width="0.8"/>
<line x1="131.32" y1="446.7" x2="131.32" y2="606.8" stroke="#d9d9d9" stroke-width="0.9"/>
<line x1="141.51" y1="446.7" x2="141.51" y2="606.8" stroke="#ededed" stroke-width="0.8"/>
<line x1="151.7" y1="446.7" x2="151.7" y2="606.8" stroke="#ededed" stroke-width="0.8"/>
<line x1="161.89" y1="446.7" x2="161.89" y2="606.8" stroke="#ededed" stroke-width="0.8"/>
<line x1="172.08" y1="446.7" x2="172.08" y2="606.8" stroke="#d9d9d9" stroke-width="0.9"/>
<line x1="182.27" y1="446.7" x2="182.27" y2="606.8" stroke="#ededed" stroke-width="0.8"/>
<line x1="192.46" y1="446.7" x2="192.46" y2="606.8" stroke="#ededed" stroke-width="0.8"/>
<line x1="202.65" y1="446.7" x2="202.65" y2="606.8" stroke="#ededed" stroke-width="0.8"/>
<line x1="212.84" y1="446.7" x2="212.84" y2="606.8" stroke="#d9d9d9" stroke-width="0.9"/>
<line x1="223.03" y1="446.7" x2="223.03" y2="606.8" stroke="#ededed" stroke-width="0.8"/>
<line x1="233.22" y1="446.7" x2="233.22" y2="606.8" stroke="#ededed" stroke-width="0.8"/>
<line x1="243.41" y1="446.7" x2="243.41" y2="606.8" stroke="#ededed" stroke-width="0.8"/>
<line x1="49.8" y1="538" x2="253.6" y2="538" stroke="#d9d9d9" stroke-width="0.9"/>
<line x1="49.8" y1="469.2" x2="253.6" y2="469.2" stroke="#d9d9d9" stroke-width="0.9"/>
<line x1="49.8" y1="572.4" x2="253.6" y2="572.4" stroke="#e2e2e2" stroke-width="0.8" stroke-dasharray="1.2 0.8"/>
<line x1="49.8" y1="503.6" x2="253.6" y2="503.6" stroke="#e2e2e2" stroke-width="0.8" stroke-dasharray="1.2 0.8"/>
<rect x="49.8" y="446.7" width="203.8" height="160.1" fill="none" stroke="#555555" stroke-width="1.0"/>
<line x1="49.8" y1="606.8" x2="49.8" y2="604.8" stroke="#555555" stroke-width="0.9"/>
<line x1="49.8" y1="446.7" x2="49.8" y2="448.7" stroke="#555555" stroke-width="0.9"/>
<line x1="90.56" y1="606.8" x2="90.56" y2="604.8" stroke="#555555" stroke-width="0.9"/>
<line x1="90.56" y1="446.7" x2="90.56" y2="448.7" stroke="#555555" stroke-width="0.9"/>
<line x1="131.32" y1="606.8" x2="131.32" y2="604.8" stroke="#555555" stroke-width="0.9"/>
<line x1="131.32" y1="446.7" x2="131.32" y2="448.7" stroke="#555555" stroke-width="0.9"/>
<line x1="172.08" y1="606.8" x2="172.08" y2="604.8" stroke="#555555" stroke-width="0.9"/>
<line x1="172.08" y1="446.7" x2="172.08" y2="448.7" stroke="#555555" stroke-width="0.9"/>
<line x1="212.84" y1="606.8" x2="212.84" y2="604.8" stroke="#555555" stroke-width="0.9"/>
<line x1="212.84" y1="446.7" x2="212.84" y2="448.7" stroke="#555555" stroke-width="0.9"/>
<line x1="253.6" y1="606.8" x2="253.6" y2="604.8" stroke="#555555" stroke-width="0.9"/>
<line x1="253.6" y1="446.7" x2="253.6" y2="448.7" stroke="#555555" stroke-width="0.9"/>
<text transform="translate(49.8 622.2) scale(1.05 1)" text-anchor="middle" class="tk">0</text>
<text transform="translate(90.56 622.2) scale(1.05 1)" text-anchor="middle" class="tk">200</text>
<text transform="translate(131.32 622.2) scale(1.05 1)" text-anchor="middle" class="tk">400</text>
<text transform="translate(172.08 622.2) scale(1.05 1)" text-anchor="middle" class="tk">600</text>
<text transform="translate(212.84 622.2) scale(1.05 1)" text-anchor="middle" class="tk">800</text>
<text transform="translate(253.6 622.2) scale(1.05 1)" text-anchor="middle" class="tk">1000</text>
<line x1="49.8" y1="606.8" x2="51.8" y2="606.8" stroke="#555555" stroke-width="0.9"/>
<line x1="251.6" y1="606.8" x2="253.6" y2="606.8" stroke="#555555" stroke-width="0.9"/>
<text transform="translate(45.5 612.3) scale(1.03 1)" text-anchor="end" class="tk">10<tspan dx="0.9" dy="-5.5" class="sup">-20</tspan></text>
<line x1="49.8" y1="538" x2="51.8" y2="538" stroke="#555555" stroke-width="0.9"/>
<line x1="251.6" y1="538" x2="253.6" y2="538" stroke="#555555" stroke-width="0.9"/>
<text transform="translate(45.5 543.5) scale(1.03 1)" text-anchor="end" class="tk">10<tspan dx="0.9" dy="-5.5" class="sup">-10</tspan></text>
<line x1="49.8" y1="469.2" x2="51.8" y2="469.2" stroke="#555555" stroke-width="0.9"/>
<line x1="251.6" y1="469.2" x2="253.6" y2="469.2" stroke="#555555" stroke-width="0.9"/>
<text transform="translate(45.5 474.7) scale(1.03 1)" text-anchor="end" class="tk">10<tspan dx="0.9" dy="-5.5" class="sup">0</tspan></text>
<line x1="49.8" y1="572.4" x2="51.1" y2="572.4" stroke="#555555" stroke-width="0.9"/>
<line x1="252.3" y1="572.4" x2="253.6" y2="572.4" stroke="#555555" stroke-width="0.9"/>
<line x1="49.8" y1="503.6" x2="51.1" y2="503.6" stroke="#555555" stroke-width="0.9"/>
<line x1="252.3" y1="503.6" x2="253.6" y2="503.6" stroke="#555555" stroke-width="0.9"/>
<polyline points="50,447.6 54,497 129.5,497 130,575" fill="none" stroke="#00ff00" stroke-width="2.7" stroke-linejoin="round" stroke-linecap="butt"/>
<polyline points="50,447.6 57,462 61,467 69,476 85,510 99,558 105,579" fill="none" stroke="#ffff00" stroke-width="2.7" stroke-linejoin="round" stroke-linecap="butt"/>
<polyline points="50,447.6 105,451 145,453 168,453.6 178.5,454.6 253.6,455" fill="none" stroke="#ff00ff" stroke-width="2.7" stroke-linejoin="round" stroke-linecap="butt"/>
<polyline points="50,447.6 55,461 60,468 63,469.6 73,469.6 75,475 77,481 80,485 91,518 92,538 97,538 99,550 101,556 105,570 107,579 109,579" fill="none" stroke="#00ffff" stroke-width="2.7" stroke-linejoin="round" stroke-linecap="butt"/>
<polyline points="50,447.6 53,468 56,472 70.6,575" fill="none" stroke="#ff0000" stroke-width="2.7" stroke-linejoin="round" stroke-linecap="butt"/>
<polyline points="50,447.6 85,449 133,451 145,454 157.5,457.8 171,461 178.5,466 183.7,468.2 187.9,469.3 190,473.5 195.2,488 200.4,502.7 207.7,517.4 214,522.6 222.4,526.8 234.9,529.9 251.6,532.4 253.6,532.5" fill="none" stroke="#000000" stroke-width="2.7" stroke-linejoin="round" stroke-linecap="butt"/>
<polyline points="50,447.6 53,474 57.4,579" fill="none" stroke="#0000ff" stroke-width="2.7" stroke-linejoin="round" stroke-linecap="butt"/>
<text x="151.7" y="441.9" text-anchor="middle" class="ti">F11</text>
<text x="151.7" y="638.7" text-anchor="middle" class="lb">Iterations</text>
<text transform="translate(14.5 526.75) rotate(-90)" text-anchor="middle" class="lb">Best score</text>
<line x1="334.79" y1="447.5" x2="334.79" y2="606.4" stroke="#ededed" stroke-width="0.8"/>
<line x1="345.19" y1="447.5" x2="345.19" y2="606.4" stroke="#ededed" stroke-width="0.8"/>
<line x1="355.58" y1="447.5" x2="355.58" y2="606.4" stroke="#ededed" stroke-width="0.8"/>
<line x1="365.98" y1="447.5" x2="365.98" y2="606.4" stroke="#d9d9d9" stroke-width="0.9"/>
<line x1="376.38" y1="447.5" x2="376.38" y2="606.4" stroke="#ededed" stroke-width="0.8"/>
<line x1="386.77" y1="447.5" x2="386.77" y2="606.4" stroke="#ededed" stroke-width="0.8"/>
<line x1="397.16" y1="447.5" x2="397.16" y2="606.4" stroke="#ededed" stroke-width="0.8"/>
<line x1="407.56" y1="447.5" x2="407.56" y2="606.4" stroke="#d9d9d9" stroke-width="0.9"/>
<line x1="417.95" y1="447.5" x2="417.95" y2="606.4" stroke="#ededed" stroke-width="0.8"/>
<line x1="428.35" y1="447.5" x2="428.35" y2="606.4" stroke="#ededed" stroke-width="0.8"/>
<line x1="438.74" y1="447.5" x2="438.74" y2="606.4" stroke="#ededed" stroke-width="0.8"/>
<line x1="449.14" y1="447.5" x2="449.14" y2="606.4" stroke="#d9d9d9" stroke-width="0.9"/>
<line x1="459.53" y1="447.5" x2="459.53" y2="606.4" stroke="#ededed" stroke-width="0.8"/>
<line x1="469.93" y1="447.5" x2="469.93" y2="606.4" stroke="#ededed" stroke-width="0.8"/>
<line x1="480.32" y1="447.5" x2="480.32" y2="606.4" stroke="#ededed" stroke-width="0.8"/>
<line x1="490.72" y1="447.5" x2="490.72" y2="606.4" stroke="#d9d9d9" stroke-width="0.9"/>
<line x1="501.11" y1="447.5" x2="501.11" y2="606.4" stroke="#ededed" stroke-width="0.8"/>
<line x1="511.51" y1="447.5" x2="511.51" y2="606.4" stroke="#ededed" stroke-width="0.8"/>
<line x1="521.9" y1="447.5" x2="521.9" y2="606.4" stroke="#ededed" stroke-width="0.8"/>
<line x1="324.4" y1="553.4" x2="532.3" y2="553.4" stroke="#d9d9d9" stroke-width="0.9"/>
<line x1="324.4" y1="500.45" x2="532.3" y2="500.45" stroke="#d9d9d9" stroke-width="0.9"/>
<line x1="324.4" y1="595.76" x2="532.3" y2="595.76" stroke="#e2e2e2" stroke-width="0.8" stroke-dasharray="1.2 0.8"/>
<line x1="324.4" y1="585.17" x2="532.3" y2="585.17" stroke="#e2e2e2" stroke-width="0.8" stroke-dasharray="1.2 0.8"/>
<line x1="324.4" y1="574.58" x2="532.3" y2="574.58" stroke="#e2e2e2" stroke-width="0.8" stroke-dasharray="1.2 0.8"/>
<line x1="324.4" y1="563.99" x2="532.3" y2="563.99" stroke="#e2e2e2" stroke-width="0.8" stroke-dasharray="1.2 0.8"/>
<line x1="324.4" y1="542.81" x2="532.3" y2="542.81" stroke="#e2e2e2" stroke-width="0.8" stroke-dasharray="1.2 0.8"/>
<line x1="324.4" y1="532.22" x2="532.3" y2="532.22" stroke="#e2e2e2" stroke-width="0.8" stroke-dasharray="1.2 0.8"/>
<line x1="324.4" y1="521.63" x2="532.3" y2="521.63" stroke="#e2e2e2" stroke-width="0.8" stroke-dasharray="1.2 0.8"/>
<line x1="324.4" y1="511.04" x2="532.3" y2="511.04" stroke="#e2e2e2" stroke-width="0.8" stroke-dasharray="1.2 0.8"/>
<line x1="324.4" y1="489.86" x2="532.3" y2="489.86" stroke="#e2e2e2" stroke-width="0.8" stroke-dasharray="1.2 0.8"/>
<line x1="324.4" y1="479.27" x2="532.3" y2="479.27" stroke="#e2e2e2" stroke-width="0.8" stroke-dasharray="1.2 0.8"/>
<line x1="324.4" y1="468.68" x2="532.3" y2="468.68" stroke="#e2e2e2" stroke-width="0.8" stroke-dasharray="1.2 0.8"/>
<line x1="324.4" y1="458.09" x2="532.3" y2="458.09" stroke="#e2e2e2" stroke-width="0.8" stroke-dasharray="1.2 0.8"/>
<rect x="324.4" y="447.5" width="207.9" height="158.9" fill="none" stroke="#555555" stroke-width="1.0"/>
<line x1="324.4" y1="606.4" x2="324.4" y2="604.4" stroke="#555555" stroke-width="0.9"/>
<line x1="324.4" y1="447.5" x2="324.4" y2="449.5" stroke="#555555" stroke-width="0.9"/>
<line x1="365.98" y1="606.4" x2="365.98" y2="604.4" stroke="#555555" stroke-width="0.9"/>
<line x1="365.98" y1="447.5" x2="365.98" y2="449.5" stroke="#555555" stroke-width="0.9"/>
<line x1="407.56" y1="606.4" x2="407.56" y2="604.4" stroke="#555555" stroke-width="0.9"/>
<line x1="407.56" y1="447.5" x2="407.56" y2="449.5" stroke="#555555" stroke-width="0.9"/>
<line x1="449.14" y1="606.4" x2="449.14" y2="604.4" stroke="#555555" stroke-width="0.9"/>
<line x1="449.14" y1="447.5" x2="449.14" y2="449.5" stroke="#555555" stroke-width="0.9"/>
<line x1="490.72" y1="606.4" x2="490.72" y2="604.4" stroke="#555555" stroke-width="0.9"/>
<line x1="490.72" y1="447.5" x2="490.72" y2="449.5" stroke="#555555" stroke-width="0.9"/>
<line x1="532.3" y1="606.4" x2="532.3" y2="604.4" stroke="#555555" stroke-width="0.9"/>
<line x1="532.3" y1="447.5" x2="532.3" y2="449.5" stroke="#555555" stroke-width="0.9"/>
<text transform="translate(324.4 621.8) scale(1.05 1)" text-anchor="middle" class="tk">0</text>
<text transform="translate(365.98 621.8) scale(1.05 1)" text-anchor="middle" class="tk">200</text>
<text transform="translate(407.56 621.8) scale(1.05 1)" text-anchor="middle" class="tk">400</text>
<text transform="translate(449.14 621.8) scale(1.05 1)" text-anchor="middle" class="tk">600</text>
<text transform="translate(490.72 621.8) scale(1.05 1)" text-anchor="middle" class="tk">800</text>
<text transform="translate(532.3 621.8) scale(1.05 1)" text-anchor="middle" class="tk">1000</text>
<line x1="324.4" y1="606.35" x2="326.4" y2="606.35" stroke="#555555" stroke-width="0.9"/>
<line x1="530.3" y1="606.35" x2="532.3" y2="606.35" stroke="#555555" stroke-width="0.9"/>
<text transform="translate(320.1 611.85) scale(1.03 1)" text-anchor="end" class="tk">10<tspan dx="0.9" dy="-5.5" class="sup">-5</tspan></text>
<line x1="324.4" y1="553.4" x2="326.4" y2="553.4" stroke="#555555" stroke-width="0.9"/>
<line x1="530.3" y1="553.4" x2="532.3" y2="553.4" stroke="#555555" stroke-width="0.9"/>
<text transform="translate(320.1 558.9) scale(1.03 1)" text-anchor="end" class="tk">10<tspan dx="0.9" dy="-5.5" class="sup">0</tspan></text>
<line x1="324.4" y1="500.45" x2="326.4" y2="500.45" stroke="#555555" stroke-width="0.9"/>
<line x1="530.3" y1="500.45" x2="532.3" y2="500.45" stroke="#555555" stroke-width="0.9"/>
<text transform="translate(320.1 505.95) scale(1.03 1)" text-anchor="end" class="tk">10<tspan dx="0.9" dy="-5.5" class="sup">5</tspan></text>
<line x1="324.4" y1="447.5" x2="326.4" y2="447.5" stroke="#555555" stroke-width="0.9"/>
<line x1="530.3" y1="447.5" x2="532.3" y2="447.5" stroke="#555555" stroke-width="0.9"/>
<text transform="translate(320.1 453) scale(1.03 1)" text-anchor="end" class="tk">10<tspan dx="0.9" dy="-5.5" class="sup">10</tspan></text>
<line x1="324.4" y1="595.76" x2="325.7" y2="595.76" stroke="#555555" stroke-width="0.9"/>
<line x1="531" y1="595.76" x2="532.3" y2="595.76" stroke="#555555" stroke-width="0.9"/>
<line x1="324.4" y1="585.17" x2="325.7" y2="585.17" stroke="#555555" stroke-width="0.9"/>
<line x1="531" y1="585.17" x2="532.3" y2="585.17" stroke="#555555" stroke-width="0.9"/>
<line x1="324.4" y1="574.58" x2="325.7" y2="574.58" stroke="#555555" stroke-width="0.9"/>
<line x1="531" y1="574.58" x2="532.3" y2="574.58" stroke="#555555" stroke-width="0.9"/>
<line x1="324.4" y1="563.99" x2="325.7" y2="563.99" stroke="#555555" stroke-width="0.9"/>
<line x1="531" y1="563.99" x2="532.3" y2="563.99" stroke="#555555" stroke-width="0.9"/>
<line x1="324.4" y1="542.81" x2="325.7" y2="542.81" stroke="#555555" stroke-width="0.9"/>
<line x1="531" y1="542.81" x2="532.3" y2="542.81" stroke="#555555" stroke-width="0.9"/>
<line x1="324.4" y1="532.22" x2="325.7" y2="532.22" stroke="#555555" stroke-width="0.9"/>
<line x1="531" y1="532.22" x2="532.3" y2="532.22" stroke="#555555" stroke-width="0.9"/>
<line x1="324.4" y1="521.63" x2="325.7" y2="521.63" stroke="#555555" stroke-width="0.9"/>
<line x1="531" y1="521.63" x2="532.3" y2="521.63" stroke="#555555" stroke-width="0.9"/>
<line x1="324.4" y1="511.04" x2="325.7" y2="511.04" stroke="#555555" stroke-width="0.9"/>
<line x1="531" y1="511.04" x2="532.3" y2="511.04" stroke="#555555" stroke-width="0.9"/>
<line x1="324.4" y1="489.86" x2="325.7" y2="489.86" stroke="#555555" stroke-width="0.9"/>
<line x1="531" y1="489.86" x2="532.3" y2="489.86" stroke="#555555" stroke-width="0.9"/>
<line x1="324.4" y1="479.27" x2="325.7" y2="479.27" stroke="#555555" stroke-width="0.9"/>
<line x1="531" y1="479.27" x2="532.3" y2="479.27" stroke="#555555" stroke-width="0.9"/>
<line x1="324.4" y1="468.68" x2="325.7" y2="468.68" stroke="#555555" stroke-width="0.9"/>
<line x1="531" y1="468.68" x2="532.3" y2="468.68" stroke="#555555" stroke-width="0.9"/>
<line x1="324.4" y1="458.09" x2="325.7" y2="458.09" stroke="#555555" stroke-width="0.9"/>
<line x1="531" y1="458.09" x2="532.3" y2="458.09" stroke="#555555" stroke-width="0.9"/>
<polyline points="325,456 328.4,540 328.4,567 354,567 354,573.6 414,573.6 414,577 487.6,577 487.6,578.5 532.3,579.2" fill="none" stroke="#00ff00" stroke-width="2.7" stroke-linejoin="round" stroke-linecap="butt"/>
<polyline points="325,456 327.5,480 332.2,491 333.5,512.8 334.6,529.1 336.2,542.2 338.4,551 343.8,556.4 354.8,558.6 372,559.7 430,560.8 532.3,561.1" fill="none" stroke="#ffff00" stroke-width="2.7" stroke-linejoin="round" stroke-linecap="butt"/>
<polyline points="325,456 330,458 344,460 349,463 360,466 368,470 380,472.5 394,475 398,476 408,479 420,484.3 433,486.9 452.7,487.5 463.6,489.7 518.2,490.2 532.3,491.3" fill="none" stroke="#ff00ff" stroke-width="2.7" stroke-linejoin="round" stroke-linecap="butt"/>
<polyline points="325,456 329.1,507.3 330.7,536.8 335.1,537.9 336.2,545.5 343.3,548.2 344.4,556.4 348.2,560.8 354.8,564.1 365.7,567.3 372,568.4 430,571 532.3,573.3" fill="none" stroke="#00ffff" stroke-width="2.7" stroke-linejoin="round" stroke-linecap="butt"/>
<polyline points="325,456 327,520 328,548 331,555 340,555.6 532.3,556.7" fill="none" stroke="#ff0000" stroke-width="2.7" stroke-linejoin="round" stroke-linecap="butt"/>
<polyline points="325,456 330,458 344,460 349,463 360,466 368,470 380,473 384,474.6 394,476 397,481 406,481.6 414,483 420,484.3 430.9,486.5 437.5,489.7 441.8,493.4 454.9,495.2 458.2,497.4 465.8,500 469.1,503.9 470.2,532.3 472.4,536.6 476.7,551.9 481.1,556.3 489.8,557.4 507.3,558.9 518.2,561.1 532.3,561.7" fill="none" stroke="#000000" stroke-width="2.7" stroke-linejoin="round" stroke-linecap="butt"/>
<polyline points="325,456 325,556 330,556 330,569 360,569 360,571 496.4,572 496.4,594.5 532.3,594.5" fill="none" stroke="#0000ff" stroke-width="2.7" stroke-linejoin="round" stroke-linecap="butt"/>
<text x="428.35" y="442.7" text-anchor="middle" class="ti">F12</text>
<text x="428.35" y="638.3" text-anchor="middle" class="lb">Iterations</text>
<text transform="translate(292.2 526.95) rotate(-90)" text-anchor="middle" class="lb">Best score</text>
<line x1="196.28" y1="659.4" x2="196.28" y2="819.3" stroke="#ededed" stroke-width="0.8"/>
<line x1="206.67" y1="659.4" x2="206.67" y2="819.3" stroke="#ededed" stroke-width="0.8"/>
<line x1="217.06" y1="659.4" x2="217.06" y2="819.3" stroke="#ededed" stroke-width="0.8"/>
<line x1="227.44" y1="659.4" x2="227.44" y2="819.3" stroke="#d9d9d9" stroke-width="0.9"/>
<line x1="237.82" y1="659.4" x2="237.82" y2="819.3" stroke="#ededed" stroke-width="0.8"/>
<line x1="248.21" y1="659.4" x2="248.21" y2="819.3" stroke="#ededed" stroke-width="0.8"/>
<line x1="258.6" y1="659.4" x2="258.6" y2="819.3" stroke="#ededed" stroke-width="0.8"/>
<line x1="268.98" y1="659.4" x2="268.98" y2="819.3" stroke="#d9d9d9" stroke-width="0.9"/>
<line x1="279.37" y1="659.4" x2="279.37" y2="819.3" stroke="#ededed" stroke-width="0.8"/>
<line x1="289.75" y1="659.4" x2="289.75" y2="819.3" stroke="#ededed" stroke-width="0.8"/>
<line x1="300.13" y1="659.4" x2="300.13" y2="819.3" stroke="#ededed" stroke-width="0.8"/>
<line x1="310.52" y1="659.4" x2="310.52" y2="819.3" stroke="#d9d9d9" stroke-width="0.9"/>
<line x1="320.91" y1="659.4" x2="320.91" y2="819.3" stroke="#ededed" stroke-width="0.8"/>
<line x1="331.29" y1="659.4" x2="331.29" y2="819.3" stroke="#ededed" stroke-width="0.8"/>
<line x1="341.68" y1="659.4" x2="341.68" y2="819.3" stroke="#ededed" stroke-width="0.8"/>
<line x1="352.06" y1="659.4" x2="352.06" y2="819.3" stroke="#d9d9d9" stroke-width="0.9"/>
<line x1="362.45" y1="659.4" x2="362.45" y2="819.3" stroke="#ededed" stroke-width="0.8"/>
<line x1="372.83" y1="659.4" x2="372.83" y2="819.3" stroke="#ededed" stroke-width="0.8"/>
<line x1="383.22" y1="659.4" x2="383.22" y2="819.3" stroke="#ededed" stroke-width="0.8"/>
<line x1="185.9" y1="766" x2="393.6" y2="766" stroke="#d9d9d9" stroke-width="0.9"/>
<line x1="185.9" y1="712.7" x2="393.6" y2="712.7" stroke="#d9d9d9" stroke-width="0.9"/>
<line x1="185.9" y1="808.64" x2="393.6" y2="808.64" stroke="#e2e2e2" stroke-width="0.8" stroke-dasharray="1.2 0.8"/>
<line x1="185.9" y1="797.98" x2="393.6" y2="797.98" stroke="#e2e2e2" stroke-width="0.8" stroke-dasharray="1.2 0.8"/>
<line x1="185.9" y1="787.32" x2="393.6" y2="787.32" stroke="#e2e2e2" stroke-width="0.8" stroke-dasharray="1.2 0.8"/>
<line x1="185.9" y1="776.66" x2="393.6" y2="776.66" stroke="#e2e2e2" stroke-width="0.8" stroke-dasharray="1.2 0.8"/>
<line x1="185.9" y1="755.34" x2="393.6" y2="755.34" stroke="#e2e2e2" stroke-width="0.8" stroke-dasharray="1.2 0.8"/>
<line x1="185.9" y1="744.68" x2="393.6" y2="744.68" stroke="#e2e2e2" stroke-width="0.8" stroke-dasharray="1.2 0.8"/>
<line x1="185.9" y1="734.02" x2="393.6" y2="734.02" stroke="#e2e2e2" stroke-width="0.8" stroke-dasharray="1.2 0.8"/>
<line x1="185.9" y1="723.36" x2="393.6" y2="723.36" stroke="#e2e2e2" stroke-width="0.8" stroke-dasharray="1.2 0.8"/>
<line x1="185.9" y1="702.04" x2="393.6" y2="702.04" stroke="#e2e2e2" stroke-width="0.8" stroke-dasharray="1.2 0.8"/>
<line x1="185.9" y1="691.38" x2="393.6" y2="691.38" stroke="#e2e2e2" stroke-width="0.8" stroke-dasharray="1.2 0.8"/>
<line x1="185.9" y1="680.72" x2="393.6" y2="680.72" stroke="#e2e2e2" stroke-width="0.8" stroke-dasharray="1.2 0.8"/>
<line x1="185.9" y1="670.06" x2="393.6" y2="670.06" stroke="#e2e2e2" stroke-width="0.8" stroke-dasharray="1.2 0.8"/>
<rect x="185.9" y="659.4" width="207.7" height="159.9" fill="none" stroke="#555555" stroke-width="1.0"/>
<line x1="185.9" y1="819.3" x2="185.9" y2="817.3" stroke="#555555" stroke-width="0.9"/>
<line x1="185.9" y1="659.4" x2="185.9" y2="661.4" stroke="#555555" stroke-width="0.9"/>
<line x1="227.44" y1="819.3" x2="227.44" y2="817.3" stroke="#555555" stroke-width="0.9"/>
<line x1="227.44" y1="659.4" x2="227.44" y2="661.4" stroke="#555555" stroke-width="0.9"/>
<line x1="268.98" y1="819.3" x2="268.98" y2="817.3" stroke="#555555" stroke-width="0.9"/>
<line x1="268.98" y1="659.4" x2="268.98" y2="661.4" stroke="#555555" stroke-width="0.9"/>
<line x1="310.52" y1="819.3" x2="310.52" y2="817.3" stroke="#555555" stroke-width="0.9"/>
<line x1="310.52" y1="659.4" x2="310.52" y2="661.4" stroke="#555555" stroke-width="0.9"/>
<line x1="352.06" y1="819.3" x2="352.06" y2="817.3" stroke="#555555" stroke-width="0.9"/>
<line x1="352.06" y1="659.4" x2="352.06" y2="661.4" stroke="#555555" stroke-width="0.9"/>
<line x1="393.6" y1="819.3" x2="393.6" y2="817.3" stroke="#555555" stroke-width="0.9"/>
<line x1="393.6" y1="659.4" x2="393.6" y2="661.4" stroke="#555555" stroke-width="0.9"/>
<text transform="translate(185.9 834.7) scale(1.05 1)" text-anchor="middle" class="tk">0</text>
<text transform="translate(227.44 834.7) scale(1.05 1)" text-anchor="middle" class="tk">200</text>
<text transform="translate(268.98 834.7) scale(1.05 1)" text-anchor="middle" class="tk">400</text>
<text transform="translate(310.52 834.7) scale(1.05 1)" text-anchor="middle" class="tk">600</text>
<text transform="translate(352.06 834.7) scale(1.05 1)" text-anchor="middle" class="tk">800</text>
<text transform="translate(393.6 834.7) scale(1.05 1)" text-anchor="middle" class="tk">1000</text>
<line x1="185.9" y1="819.3" x2="187.9" y2="819.3" stroke="#555555" stroke-width="0.9"/>
<line x1="391.6" y1="819.3" x2="393.6" y2="819.3" stroke="#555555" stroke-width="0.9"/>
<text transform="translate(181.6 824.8) scale(1.03 1)" text-anchor="end" class="tk">10<tspan dx="0.9" dy="-5.5" class="sup">-5</tspan></text>
<line x1="185.9" y1="766" x2="187.9" y2="766" stroke="#555555" stroke-width="0.9"/>
<line x1="391.6" y1="766" x2="393.6" y2="766" stroke="#555555" stroke-width="0.9"/>
<text transform="translate(181.6 771.5) scale(1.03 1)" text-anchor="end" class="tk">10<tspan dx="0.9" dy="-5.5" class="sup">0</tspan></text>
<line x1="185.9" y1="712.7" x2="187.9" y2="712.7" stroke="#555555" stroke-width="0.9"/>
<line x1="391.6" y1="712.7" x2="393.6" y2="712.7" stroke="#555555" stroke-width="0.9"/>
<text transform="translate(181.6 718.2) scale(1.03 1)" text-anchor="end" class="tk">10<tspan dx="0.9" dy="-5.5" class="sup">5</tspan></text>
<line x1="185.9" y1="659.4" x2="187.9" y2="659.4" stroke="#555555" stroke-width="0.9"/>
<line x1="391.6" y1="659.4" x2="393.6" y2="659.4" stroke="#555555" stroke-width="0.9"/>
<text transform="translate(181.6 664.9) scale(1.03 1)" text-anchor="end" class="tk">10<tspan dx="0.9" dy="-5.5" class="sup">10</tspan></text>
<line x1="185.9" y1="808.64" x2="187.2" y2="808.64" stroke="#555555" stroke-width="0.9"/>
<line x1="392.3" y1="808.64" x2="393.6" y2="808.64" stroke="#555555" stroke-width="0.9"/>
<line x1="185.9" y1="797.98" x2="187.2" y2="797.98" stroke="#555555" stroke-width="0.9"/>
<line x1="392.3" y1="797.98" x2="393.6" y2="797.98" stroke="#555555" stroke-width="0.9"/>
<line x1="185.9" y1="787.32" x2="187.2" y2="787.32" stroke="#555555" stroke-width="0.9"/>
<line x1="392.3" y1="787.32" x2="393.6" y2="787.32" stroke="#555555" stroke-width="0.9"/>
<line x1="185.9" y1="776.66" x2="187.2" y2="776.66" stroke="#555555" stroke-width="0.9"/>
<line x1="392.3" y1="776.66" x2="393.6" y2="776.66" stroke="#555555" stroke-width="0.9"/>
<line x1="185.9" y1="755.34" x2="187.2" y2="755.34" stroke="#555555" stroke-width="0.9"/>
<line x1="392.3" y1="755.34" x2="393.6" y2="755.34" stroke="#555555" stroke-width="0.9"/>
<line x1="185.9" y1="744.68" x2="187.2" y2="744.68" stroke="#555555" stroke-width="0.9"/>
<line x1="392.3" y1="744.68" x2="393.6" y2="744.68" stroke="#555555" stroke-width="0.9"/>
<line x1="185.9" y1="734.02" x2="187.2" y2="734.02" stroke="#555555" stroke-width="0.9"/>
<line x1="392.3" y1="734.02" x2="393.6" y2="734.02" stroke="#555555" stroke-width="0.9"/>
<line x1="185.9" y1="723.36" x2="187.2" y2="723.36" stroke="#555555" stroke-width="0.9"/>
<line x1="392.3" y1="723.36" x2="393.6" y2="723.36" stroke="#555555" stroke-width="0.9"/>
<line x1="185.9" y1="702.04" x2="187.2" y2="702.04" stroke="#555555" stroke-width="0.9"/>
<line x1="392.3" y1="702.04" x2="393.6" y2="702.04" stroke="#555555" stroke-width="0.9"/>
<line x1="185.9" y1="691.38" x2="187.2" y2="691.38" stroke="#555555" stroke-width="0.9"/>
<line x1="392.3" y1="691.38" x2="393.6" y2="691.38" stroke="#555555" stroke-width="0.9"/>
<line x1="185.9" y1="680.72" x2="187.2" y2="680.72" stroke="#555555" stroke-width="0.9"/>
<line x1="392.3" y1="680.72" x2="393.6" y2="680.72" stroke="#555555" stroke-width="0.9"/>
<line x1="185.9" y1="670.06" x2="187.2" y2="670.06" stroke="#555555" stroke-width="0.9"/>
<line x1="392.3" y1="670.06" x2="393.6" y2="670.06" stroke="#555555" stroke-width="0.9"/>
<polyline points="186.6,665 188.3,745 189.5,756.5 199.3,757.5 199.3,763.5 285,764.3 313.2,765.6 313.2,770 337.3,773.1 351.9,773.1 364.4,775.2 377,777.3 387.4,780 393.6,781.5" fill="none" stroke="#00ff00" stroke-width="2.7" stroke-linejoin="round" stroke-linecap="butt"/>
<polyline points="186.6,665 190,695 195.6,730 196.5,739.1 200.2,748.2 202.9,756.4 206.5,760 393.6,760.6" fill="none" stroke="#ffff00" stroke-width="2.7" stroke-linejoin="round" stroke-linecap="butt"/>
<polyline points="186.6,665 200,667.4 220,671 240,673.6 260,674.6 276,676 282,679 288,684.6 291.3,685.3 297.5,687.4 305.9,690.1 316.4,694.7 326.8,698.5 341.4,703.1 356.1,704.8 362.4,706.9 379.1,708.3 387.4,710.4 390.6,714.6 392.7,721.9" fill="none" stroke="#ff00ff" stroke-width="2.7" stroke-linejoin="round" stroke-linecap="butt"/>
<polyline points="186.6,665 192,730 192.9,753.6 194.3,756.4 207.5,765 290,767.2 393.6,767.6" fill="none" stroke="#00ffff" stroke-width="2.7" stroke-linejoin="round" stroke-linecap="butt"/>
<polyline points="186.6,665 189.3,730 189.7,754.5 190.6,756.4 194.7,758.2 393.6,758.2" fill="none" stroke="#ff0000" stroke-width="2.7" stroke-linejoin="round" stroke-linecap="butt"/>
<polyline points="186.6,665 190,667 200,667.4 206,670 210,672 220,674 230,677 240,679.4 250,682 260,685 270,687.4 280,688.6 293.4,690.1 301.7,692.6 305.9,695.8 318.5,697.9 321.6,702 322.6,721.9 324.7,734.4 326.8,747 330,753.3 335.2,757.9 393.6,757.9" fill="none" stroke="#000000" stroke-width="2.7" stroke-linejoin="round" stroke-linecap="butt"/>
<polyline points="186.6,665 187.5,756.8 196.5,756.8 196.5,760.5 206.1,760.5 206.1,771.4 224.7,771.4 224.7,772.3 237,772.3 237,799.4 389.5,799.4 390.6,803.4 393.6,803.4" fill="none" stroke="#0000ff" stroke-width="2.7" stroke-linejoin="round" stroke-linecap="butt"/>
<text x="289.75" y="654.6" text-anchor="middle" class="ti">F13</text>
<text x="289.75" y="851.2" text-anchor="middle" class="lb">Iterations</text>
<text transform="translate(154.5 739.35) rotate(-90)" text-anchor="middle" class="lb">Best score</text>
<rect x="113.5" y="859" width="323" height="51" fill="#fff" stroke="#555555" stroke-width="1"/>
<line x1="117.4" y1="873" x2="153.4" y2="873" stroke="#0000ff" stroke-width="2.2"/>
<text transform="translate(156.4 877.6) scale(0.95 1)" class="lg">SMA-GM</text>
<line x1="209.5" y1="873" x2="245.5" y2="873" stroke="#00ff00" stroke-width="2.2"/>
<text transform="translate(248.5 877.6) scale(0.95 1)" class="lg">SMA</text>
<line x1="289.3" y1="873" x2="325.3" y2="873" stroke="#ffff00" stroke-width="2.2"/>
<text transform="translate(328.3 877.6) scale(0.95 1)" class="lg">GWO</text>
<line x1="365.9" y1="873" x2="401.9" y2="873" stroke="#ff00ff" stroke-width="2.2"/>
<text transform="translate(404.9 877.6) scale(0.95 1)" class="lg">MFO</text>
<line x1="117.4" y1="896" x2="153.4" y2="896" stroke="#00ffff" stroke-width="2.2"/>
<text transform="translate(156.4 900.6) scale(0.95 1)" class="lg">WOA</text>
<line x1="209.5" y1="896" x2="245.5" y2="896" stroke="#ff0000" stroke-width="2.2"/>
<text transform="translate(248.5 900.6) scale(0.95 1)" class="lg">AGWO</text>
<line x1="289.3" y1="896" x2="325.3" y2="896" stroke="#000000" stroke-width="2.2"/>
<text transform="translate(328.3 900.6) scale(0.95 1)" class="lg">IChoA</text>
<circle cx="3.3" cy="213.3" r="0.9" fill="#555"/>
</svg>
</body></html>
